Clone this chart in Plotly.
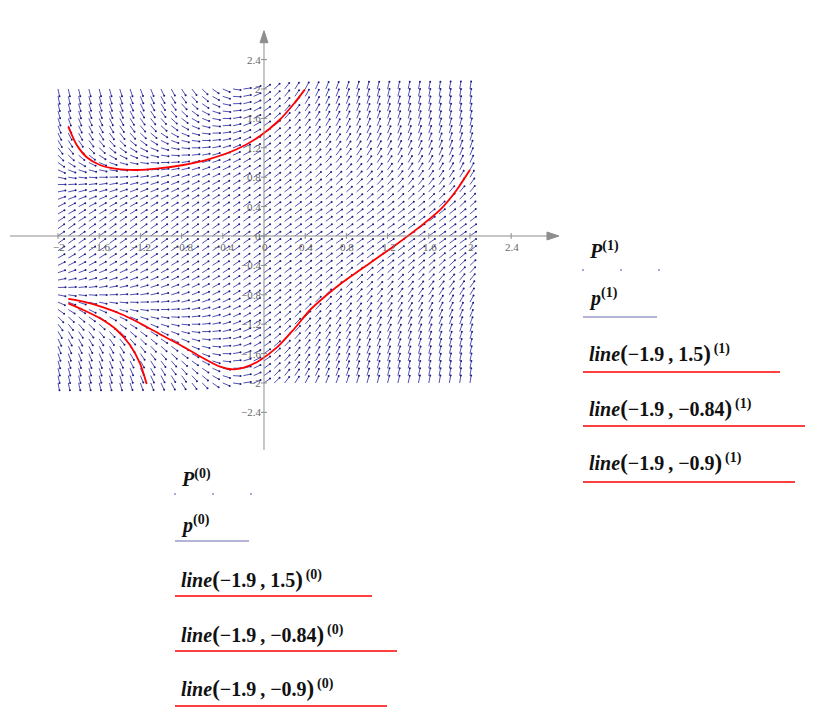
import numpy as np
import plotly.graph_objects as go

# ---- data -------------------------------------------------------------
# direction field of y' = 1 + x*y^2 on a 0.1 grid (Mathcad P / p)
x_grid = np.round(np.arange(-2.0, 2.0001, 0.1), 1)
y_grid = np.round(np.arange(-2.0, 2.0001, 0.1), 1)

# solution curves
line_a_x = [-1.90, -1.818, -1.721, -1.592, -1.430, -1.236, -1.042, -0.783,
            -0.524, -0.265, -0.039, 0.155, 0.284, 0.398]
line_a_y = [1.487, 1.238, 1.071, 0.966, 0.912, 0.898, 0.916, 0.966,
            1.050, 1.180, 1.360, 1.585, 1.790, 1.995]

line_b_x = [-1.90, -1.754, -1.560, -1.366, -1.172, -0.978, -0.783, -0.589,
            -0.427, -0.298, -0.168, -0.039, 0.123, 0.284, 0.447, 0.609,
            0.770, 0.932, 1.094, 1.255, 1.515, 1.709, 1.871, 2.0]
line_b_y = [-0.857, -0.894, -0.970, -1.075, -1.211, -1.361, -1.506, -1.664,
            -1.778, -1.814, -1.778, -1.690, -1.520, -1.279, -1.007, -0.803,
            -0.622, -0.463, -0.303, -0.146, 0.127, 0.354, 0.626, 0.90]

line_c_x = [-1.90, -1.754, -1.592, -1.430, -1.301, -1.204, -1.139]
line_c_y = [-0.916, -1.007, -1.120, -1.279, -1.483, -1.732, -2.014]

x_ticks = [-2, -1.6, -1.2, -0.8, -0.4, 0, 0.4, 0.8, 1.2, 1.6, 2, 2.4]
y_ticks = [-2.4, -2, -1.6, -1.2, -0.8, -0.4, 0, 0.4, 0.8, 1.2, 1.6, 2, 2.4]

# ---- layout constants (page pixels; the html body adds an 8px margin) --
OFF = 8
W, H = 827 - 2 * OFF, 716 - 2 * OFF
PL, PR, PT, PB = 10, 560, 30, 450
X_RANGE = [-2.466, 2.874]
Y_RANGE = [-2.912, 2.803]
SX = (PR - PL) / (X_RANGE[1] - X_RANGE[0])
SY = (PB - PT) / (Y_RANGE[1] - Y_RANGE[0])
SEG_PX = 7.5

AXIS_COLOR = "#8e8e8e"
FIELD_COLOR = "#3c3cae"
DOT_COLOR = "#1a1a80"
RED = "#ff0000"
SERIF = "Liberation Serif, DejaVu Serif, serif"


def px_to_paper(px, py):
    return (px - PL) / (PR - PL), (PB - py) / (PB - PT)


# build field segments (tail at grid point, dot at head)
seg_x, seg_y, head_x, head_y = [], [], [], []
for yv in y_grid:
    for xv in x_grid:
        slope = 1 + xv * yv ** 2
        ang = np.arctan2(slope * SY, SX)
        dx = SEG_PX * np.cos(ang) / SX
        dy = SEG_PX * np.sin(ang) / SY
        seg_x += [xv, xv + dx, None]
        seg_y += [yv, yv + dy, None]
        head_x.append(xv + dx)
        head_y.append(yv + dy)

fig = go.Figure()

fig.add_trace(go.Scatter(
    x=seg_x, y=seg_y, mode="lines",
    line={"color": FIELD_COLOR, "width": 0.9}, hoverinfo="skip", showlegend=False,
))
fig.add_trace(go.Scatter(
    x=head_x, y=head_y, mode="markers",
    marker={"color": DOT_COLOR, "size": 2}, hoverinfo="skip", showlegend=False,
))

for cx, cy in [(line_a_x, line_a_y), (line_b_x, line_b_y), (line_c_x, line_c_y)]:
    fig.add_trace(go.Scatter(
        x=cx, y=cy, mode="lines",
        line={"color": RED, "width": 1.8, "shape": "spline", "smoothing": 0.8},
        hoverinfo="skip", showlegend=False,
    ))

shapes = []
annotations = []

# crossed axes with arrowheads
shapes.append({"type": "line", "xref": "x", "yref": "y", "x0": X_RANGE[0], "x1": X_RANGE[1] - 0.02,
               "y0": 0, "y1": 0, "line": {"color": AXIS_COLOR, "width": 1}})
shapes.append({"type": "line", "xref": "x", "yref": "y", "x0": 0, "x1": 0,
               "y0": Y_RANGE[0], "y1": Y_RANGE[1] - 0.02, "line": {"color": AXIS_COLOR, "width": 1}})
ax_tip = X_RANGE[1] - 0.01
shapes.append({"type": "path", "xref": "x", "yref": "y",
               "path": f"M {ax_tip} 0 L {ax_tip - 12 / SX} {4 / SY} L {ax_tip - 12 / SX} {-4 / SY} Z",
               "fillcolor": AXIS_COLOR, "line": {"color": AXIS_COLOR, "width": 1}})
ay_tip = Y_RANGE[1] - 0.01
shapes.append({"type": "path", "xref": "x", "yref": "y",
               "path": f"M 0 {ay_tip} L {4 / SX} {ay_tip - 12 / SY} L {-4 / SX} {ay_tip - 12 / SY} Z",
               "fillcolor": AXIS_COLOR, "line": {"color": AXIS_COLOR, "width": 1}})

tick_font = {"family": SERIF, "size": 11, "color": "#666666"}
for t in x_ticks:
    shapes.append({"type": "line", "xref": "x", "yref": "y", "x0": t, "x1": t,
                   "y0": -3 / SY, "y1": 3 / SY, "line": {"color": AXIS_COLOR, "width": 1}})
    annotations.append({"x": t, "y": 0, "xref": "x", "yref": "y", "showarrow": False,
                        "text": f"{t:g}".replace("-", "\u2212"), "font": tick_font,
                        "yanchor": "top", "yshift": -3, "xshift": 1})
for t in y_ticks:
    shapes.append({"type": "line", "xref": "x", "yref": "y", "x0": -3 / SX, "x1": 3 / SX,
                   "y0": t, "y1": t, "line": {"color": AXIS_COLOR, "width": 1}})
    annotations.append({"x": 0, "y": t, "xref": "x", "yref": "y", "showarrow": False,
                        "text": f"{t:g}".replace("-", "\u2212"), "font": tick_font,
                        "xanchor": "right", "xshift": -1})

# Mathcad-style trace labels
name_font = {"family": SERIF, "size": 20, "color": "#111111"}


def label_text(name, args, col):
    if args is None:
        return f"<b><i>{name}</i><sup>({col})</sup></b>"
    return (f"<b><i>line</i><span style='font-size:23px'>(</span>{args}"
            f"<span style='font-size:23px'>)</span><sup>\u2009({col})</sup></b>")


entries = [
    ("P", None, "dots", None),
    ("p", None, "line", 74),
    ("line", "\u22121.9\u2009, 1.5", "red", 197),
    ("line", "\u22121.9\u2009, \u22120.84", "red", 222),
    ("line", "\u22121.9\u2009, \u22120.9", "red", 212),
]
blocks = [
    # (col, text_x, line_x, label centre ys, line ys)
    (1, 587, 583, [250, 297, 353, 408, 463], [270, 317, 372, 426, 482]),
    (0, 179, 175, [478, 524, 579, 634, 688], [494, 541, 596, 651, 706]),
]
for col, tx, lx, cys, lys in blocks:
    for (name, args, kind, length), cy, ly in zip(entries, cys, lys):
        px, py = px_to_paper(tx, cy)
        annotations.append({"x": px, "y": py, "xref": "paper", "yref": "paper",
                            "showarrow": False, "xanchor": "left", "yanchor": "middle",
                            "text": label_text(name, args, col), "font": name_font})
        if kind == "dots":
            for dxp in (0, 38, 76):
                qx, qy = px_to_paper(lx + dxp, ly)
                shapes.append({"type": "circle", "xref": "paper", "yref": "paper",
                               "x0": qx - 0.8 / (PR - PL), "x1": qx + 0.8 / (PR - PL),
                               "y0": qy - 0.8 / (PB - PT), "y1": qy + 0.8 / (PB - PT),
                               "fillcolor": "#3a3aa0", "line": {"width": 0}})
        else:
            color = "#6a6ab0" if kind == "line" else RED
            x0p, y0p = px_to_paper(lx, ly)
            x1p, _ = px_to_paper(lx + length, ly)
            shapes.append({"type": "line", "xref": "paper", "yref": "paper",
                           "x0": x0p, "x1": x1p, "y0": y0p, "y1": y0p,
                           "line": {"color": color, "width": 1.2 if kind == "line" else 1.6}})

fig.update_layout(
    width=W,
    height=H,
    margin={"l": PL - OFF, "r": W - (PR - OFF), "t": PT - OFF, "b": H - (PB - OFF)},
    plot_bgcolor="white",
    paper_bgcolor="white",
    showlegend=False,
    xaxis={"range": X_RANGE, "visible": False, "fixedrange": True},
    yaxis={"range": Y_RANGE, "visible": False, "fixedrange": True},
    shapes=shapes,
    annotations=annotations,
)

fig.write_html("out.html")
